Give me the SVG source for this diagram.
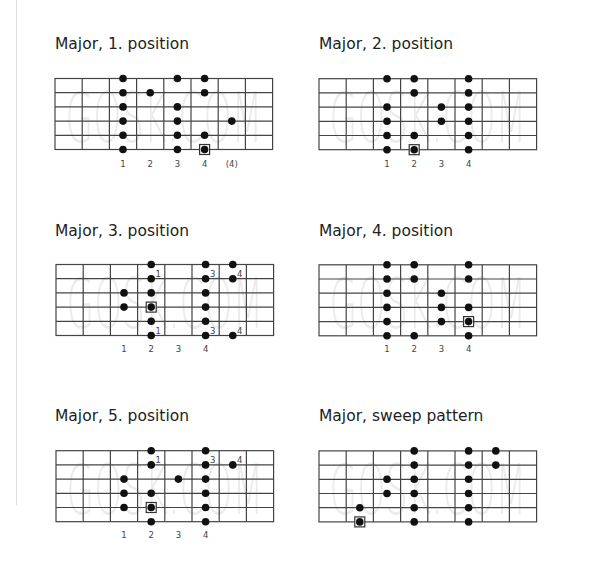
<svg xmlns="http://www.w3.org/2000/svg" xmlns:xlink="http://www.w3.org/1999/xlink" width="612" height="562" viewBox="0 0 612 562">
<style>
.title{font-family:"DejaVu Sans",Verdana,sans-serif;font-size:15.5px;fill:#222}
.wm{font-family:"DejaVu Sans",sans-serif;font-weight:200;font-size:68.6px;fill:#ebebeb}
.grid line,.grid rect{stroke:#444;stroke-width:1.2;fill:none}
.dot{fill:#111}
.root{fill:#fff;stroke:#333;stroke-width:1.2}
.fn{font-family:"DejaVu Sans",Verdana,sans-serif;font-size:8.5px;fill:#444;text-anchor:middle}
.sup{font-family:"DejaVu Sans",Verdana,sans-serif;font-size:8.5px;fill:#444}
</style>
<defs>
<g id="grid" class="grid">
<rect x="0" y="0" width="217.6" height="71"/>
<line x1="0" y1="14.2" x2="217.6" y2="14.2"/>
<line x1="0" y1="28.4" x2="217.6" y2="28.4"/>
<line x1="0" y1="42.6" x2="217.6" y2="42.6"/>
<line x1="0" y1="56.8" x2="217.6" y2="56.8"/>
<line x1="27.2" y1="0" x2="27.2" y2="71"/>
<line x1="54.4" y1="0" x2="54.4" y2="71"/>
<line x1="81.6" y1="0" x2="81.6" y2="71"/>
<line x1="108.8" y1="0" x2="108.8" y2="71"/>
<line x1="136" y1="0" x2="136" y2="71"/>
<line x1="163.2" y1="0" x2="163.2" y2="71"/>
<line x1="190.4" y1="0" x2="190.4" y2="71"/>
</g>
<text id="wmark" class="wm" transform="translate(10.5,63.5) scale(0.52,1)">GOSK.COM</text>
</defs>
<rect width="612" height="562" fill="#fff"/>
<line x1="16.5" y1="0" x2="16.5" y2="505" stroke="#ddd" stroke-width="1"/>

<g id="diagram1">
<text class="title" x="55" y="49">Major, 1. position</text>
<g transform="translate(55,78.5)">
<use xlink:href="#wmark"/>
<use xlink:href="#grid"/>
<circle class="dot" cx="68" cy="0" r="3.8"/><circle class="dot" cx="68" cy="14.2" r="3.8"/><circle class="dot" cx="68" cy="28.4" r="3.8"/><circle class="dot" cx="68" cy="42.6" r="3.8"/><circle class="dot" cx="68" cy="56.8" r="3.8"/><circle class="dot" cx="68" cy="71" r="3.8"/>
<circle class="dot" cx="95.2" cy="14.2" r="3.8"/>
<circle class="dot" cx="122.4" cy="0" r="3.8"/><circle class="dot" cx="122.4" cy="28.4" r="3.8"/><circle class="dot" cx="122.4" cy="42.6" r="3.8"/><circle class="dot" cx="122.4" cy="56.8" r="3.8"/><circle class="dot" cx="122.4" cy="71" r="3.8"/>
<circle class="dot" cx="149.6" cy="0" r="3.8"/><circle class="dot" cx="149.6" cy="14.2" r="3.8"/><circle class="dot" cx="149.6" cy="56.8" r="3.8"/>
<rect class="root" x="144.6" y="66" width="10" height="10"/><circle class="dot" cx="149.6" cy="71" r="3.8"/>
<circle class="dot" cx="176.8" cy="42.6" r="3.8"/>
<text class="fn" x="68" y="88">1</text><text class="fn" x="95.2" y="88">2</text><text class="fn" x="122.4" y="88">3</text><text class="fn" x="149.6" y="88">4</text><text class="fn" x="176.8" y="88">(4)</text>
</g>
</g>

<g id="diagram2">
<text class="title" x="319" y="49">Major, 2. position</text>
<g transform="translate(319,78.7)">
<use xlink:href="#wmark"/>
<use xlink:href="#grid"/>
<circle class="dot" cx="68" cy="0" r="3.8"/><circle class="dot" cx="68" cy="28.4" r="3.8"/><circle class="dot" cx="68" cy="42.6" r="3.8"/><circle class="dot" cx="68" cy="56.8" r="3.8"/><circle class="dot" cx="68" cy="71" r="3.8"/>
<circle class="dot" cx="95.2" cy="0" r="3.8"/><circle class="dot" cx="95.2" cy="14.2" r="3.8"/><circle class="dot" cx="95.2" cy="56.8" r="3.8"/>
<rect class="root" x="90.2" y="66" width="10" height="10"/><circle class="dot" cx="95.2" cy="71" r="3.8"/>
<circle class="dot" cx="122.4" cy="28.4" r="3.8"/><circle class="dot" cx="122.4" cy="42.6" r="3.8"/>
<circle class="dot" cx="149.6" cy="0" r="3.8"/><circle class="dot" cx="149.6" cy="14.2" r="3.8"/><circle class="dot" cx="149.6" cy="28.4" r="3.8"/><circle class="dot" cx="149.6" cy="42.6" r="3.8"/><circle class="dot" cx="149.6" cy="56.8" r="3.8"/><circle class="dot" cx="149.6" cy="71" r="3.8"/>
<text class="fn" x="68" y="88">1</text><text class="fn" x="95.2" y="88">2</text><text class="fn" x="122.4" y="88">3</text><text class="fn" x="149.6" y="88">4</text>
</g>
</g>

<g id="diagram3">
<text class="title" x="55" y="235.5">Major, 3. position</text>
<g transform="translate(56,264.5)">
<use xlink:href="#wmark"/>
<use xlink:href="#grid"/>
<circle class="dot" cx="68" cy="28.4" r="3.8"/><circle class="dot" cx="68" cy="42.6" r="3.8"/>
<circle class="dot" cx="95.2" cy="0" r="3.8"/><circle class="dot" cx="95.2" cy="14.2" r="3.8"/><circle class="dot" cx="95.2" cy="28.4" r="3.8"/>
<rect class="root" x="90.2" y="37.6" width="10" height="10"/><circle class="dot" cx="95.2" cy="42.6" r="3.8"/>
<circle class="dot" cx="95.2" cy="56.8" r="3.8"/><circle class="dot" cx="95.2" cy="71" r="3.8"/>
<circle class="dot" cx="149.6" cy="0" r="3.8"/><circle class="dot" cx="149.6" cy="14.2" r="3.8"/><circle class="dot" cx="149.6" cy="28.4" r="3.8"/><circle class="dot" cx="149.6" cy="42.6" r="3.8"/><circle class="dot" cx="149.6" cy="56.8" r="3.8"/><circle class="dot" cx="149.6" cy="71" r="3.8"/>
<circle class="dot" cx="176.8" cy="0" r="3.8"/><circle class="dot" cx="176.8" cy="14.2" r="3.8"/><circle class="dot" cx="176.8" cy="71" r="3.8"/>
<text class="sup" x="99.5" y="12.5">1</text><text class="sup" x="99.5" y="69">1</text>
<text class="sup" x="153.9" y="12.5">3</text><text class="sup" x="153.9" y="69">3</text>
<text class="sup" x="181.1" y="12.5">4</text><text class="sup" x="181.1" y="69">4</text>
<text class="fn" x="68" y="87.5">1</text><text class="fn" x="95.2" y="87.5">2</text><text class="fn" x="122.4" y="87.5">3</text><text class="fn" x="149.6" y="87.5">4</text>
</g>
</g>

<g id="diagram4">
<text class="title" x="319" y="235.5">Major, 4. position</text>
<g transform="translate(319,264.8)">
<use xlink:href="#wmark"/>
<use xlink:href="#grid"/>
<circle class="dot" cx="68" cy="0" r="3.8"/><circle class="dot" cx="68" cy="14.2" r="3.8"/><circle class="dot" cx="68" cy="28.4" r="3.8"/><circle class="dot" cx="68" cy="42.6" r="3.8"/><circle class="dot" cx="68" cy="56.8" r="3.8"/><circle class="dot" cx="68" cy="71" r="3.8"/>
<circle class="dot" cx="95.2" cy="0" r="3.8"/><circle class="dot" cx="95.2" cy="14.2" r="3.8"/><circle class="dot" cx="95.2" cy="71" r="3.8"/>
<circle class="dot" cx="122.4" cy="28.4" r="3.8"/><circle class="dot" cx="122.4" cy="42.6" r="3.8"/><circle class="dot" cx="122.4" cy="56.8" r="3.8"/>
<circle class="dot" cx="149.6" cy="0" r="3.8"/><circle class="dot" cx="149.6" cy="14.2" r="3.8"/><circle class="dot" cx="149.6" cy="42.6" r="3.8"/>
<rect class="root" x="144.6" y="51.8" width="10" height="10"/><circle class="dot" cx="149.6" cy="56.8" r="3.8"/>
<circle class="dot" cx="149.6" cy="71" r="3.8"/>
<text class="fn" x="68" y="87.5">1</text><text class="fn" x="95.2" y="87.5">2</text><text class="fn" x="122.4" y="87.5">3</text><text class="fn" x="149.6" y="87.5">4</text>
</g>
</g>

<g id="diagram5">
<text class="title" x="55" y="421">Major, 5. position</text>
<g transform="translate(56,450.7)">
<use xlink:href="#wmark"/>
<use xlink:href="#grid"/>
<circle class="dot" cx="68" cy="28.4" r="3.8"/><circle class="dot" cx="68" cy="42.6" r="3.8"/><circle class="dot" cx="68" cy="56.8" r="3.8"/>
<circle class="dot" cx="95.2" cy="0" r="3.8"/><circle class="dot" cx="95.2" cy="14.2" r="3.8"/><circle class="dot" cx="95.2" cy="42.6" r="3.8"/>
<rect class="root" x="90.2" y="51.8" width="10" height="10"/><circle class="dot" cx="95.2" cy="56.8" r="3.8"/>
<circle class="dot" cx="95.2" cy="71" r="3.8"/>
<circle class="dot" cx="122.4" cy="28.4" r="3.8"/>
<circle class="dot" cx="149.6" cy="0" r="3.8"/><circle class="dot" cx="149.6" cy="14.2" r="3.8"/><circle class="dot" cx="149.6" cy="28.4" r="3.8"/><circle class="dot" cx="149.6" cy="42.6" r="3.8"/><circle class="dot" cx="149.6" cy="56.8" r="3.8"/><circle class="dot" cx="149.6" cy="71" r="3.8"/>
<circle class="dot" cx="176.8" cy="14.2" r="3.8"/>
<text class="sup" x="99.5" y="12.5">1</text>
<text class="sup" x="153.9" y="12.5">3</text>
<text class="sup" x="181.1" y="12.5">4</text>
<text class="fn" x="68" y="87.5">1</text><text class="fn" x="95.2" y="87.5">2</text><text class="fn" x="122.4" y="87.5">3</text><text class="fn" x="149.6" y="87.5">4</text>
</g>
</g>

<g id="diagram6">
<text class="title" x="319" y="421">Major, sweep pattern</text>
<g transform="translate(319,450.9)">
<use xlink:href="#wmark"/>
<use xlink:href="#grid"/>
<circle class="dot" cx="40.8" cy="56.8" r="3.8"/>
<rect class="root" x="35.8" y="66" width="10" height="10"/><circle class="dot" cx="40.8" cy="71" r="3.8"/>
<circle class="dot" cx="68" cy="28.4" r="3.8"/><circle class="dot" cx="68" cy="42.6" r="3.8"/>
<circle class="dot" cx="95.2" cy="0" r="3.8"/><circle class="dot" cx="95.2" cy="14.2" r="3.8"/><circle class="dot" cx="95.2" cy="28.4" r="3.8"/><circle class="dot" cx="95.2" cy="42.6" r="3.8"/><circle class="dot" cx="95.2" cy="56.8" r="3.8"/><circle class="dot" cx="95.2" cy="71" r="3.8"/>
<circle class="dot" cx="149.6" cy="0" r="3.8"/><circle class="dot" cx="149.6" cy="14.2" r="3.8"/><circle class="dot" cx="149.6" cy="28.4" r="3.8"/><circle class="dot" cx="149.6" cy="42.6" r="3.8"/><circle class="dot" cx="149.6" cy="56.8" r="3.8"/><circle class="dot" cx="149.6" cy="71" r="3.8"/>
<circle class="dot" cx="176.8" cy="0" r="3.8"/><circle class="dot" cx="176.8" cy="14.2" r="3.8"/>
</g>
</g>
</svg>
